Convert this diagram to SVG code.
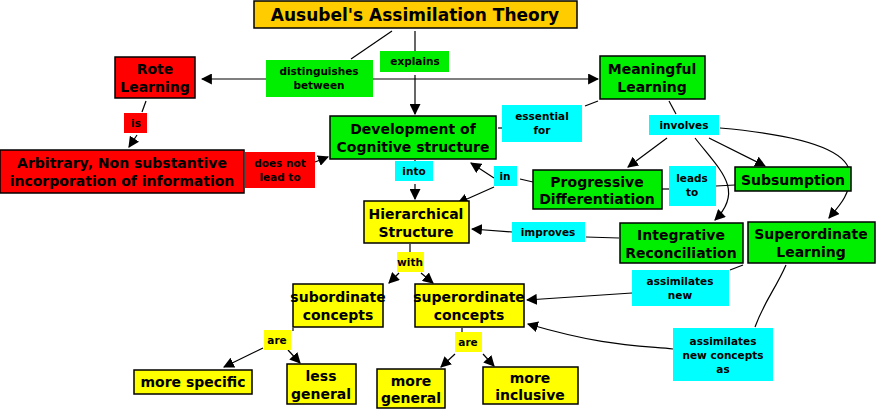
<svg xmlns="http://www.w3.org/2000/svg" width="881" height="410" viewBox="0 0 881 410">
<style>
text{font-family:"DejaVu Sans","Liberation Sans",sans-serif;font-weight:bold;text-anchor:middle;fill:#000}
.n rect{stroke:#000;stroke-width:1.5}
.l rect{stroke:none}
.n text{font-size:14px}
.l text{font-size:10.5px}
.red{fill:#ff0000}.grn{fill:#00ee00}.yel{fill:#ffff00}.cyn{fill:#00ffff}
#c path,#c line{stroke:#000;stroke-width:1.2;fill:none}
</style>
<defs><marker id="a" viewBox="0 0 10 10" refX="9" refY="5" markerWidth="11" markerHeight="11" markerUnits="userSpaceOnUse" orient="auto"><path d="M0,0L10,5L0,10z" fill="#000"/></marker></defs>
<rect width="881" height="410" fill="#fff"/>
<g id="c">
<line x1="392" y1="31" x2="351" y2="59"/>
<line x1="266" y1="79" x2="202" y2="79" marker-end="url(#a)"/>
<line x1="373" y1="79" x2="598" y2="79" marker-end="url(#a)"/>
<line x1="415" y1="31" x2="415" y2="51"/>
<line x1="415" y1="75" x2="415" y2="114" marker-end="url(#a)"/>
<line x1="146" y1="101" x2="142" y2="112"/>
<line x1="137" y1="135" x2="129" y2="147" marker-end="url(#a)"/>
<line x1="315" y1="162" x2="328" y2="157" marker-end="url(#a)"/>
<line x1="598" y1="101" x2="585" y2="106"/>
<line x1="502" y1="128" x2="498" y2="128"/>
<line x1="669" y1="101" x2="676" y2="114"/>
<line x1="667" y1="138" x2="628" y2="167" marker-end="url(#a)"/>
<line x1="709" y1="138" x2="765" y2="166" marker-end="url(#a)"/>
<path d="M695,138 C720,170 745,190 715,220" marker-end="url(#a)"/>
<path d="M720,128 C800,135 850,150 850,175 C850,195 840,205 829,218" marker-end="url(#a)"/>
<line x1="533" y1="182" x2="520" y2="179"/>
<line x1="494" y1="178" x2="471" y2="163" marker-end="url(#a)"/>
<line x1="494" y1="187" x2="458" y2="203" marker-end="url(#a)"/>
<line x1="662" y1="189" x2="669" y2="189"/>
<line x1="716" y1="186" x2="735" y2="185"/>
<line x1="415" y1="160" x2="415" y2="161"/>
<line x1="415" y1="184" x2="415" y2="199" marker-end="url(#a)"/>
<line x1="619" y1="238" x2="586" y2="237"/>
<line x1="512" y1="232" x2="472" y2="229" marker-end="url(#a)"/>
<line x1="410" y1="244" x2="410" y2="252"/>
<line x1="399" y1="273" x2="389" y2="283" marker-end="url(#a)"/>
<line x1="421" y1="273" x2="433" y2="283" marker-end="url(#a)"/>
<line x1="743" y1="265" x2="730" y2="270"/>
<line x1="632" y1="293" x2="527" y2="300" marker-end="url(#a)"/>
<path d="M786,265 C775,290 765,300 755,327"/>
<path d="M673,349 C630,345 600,345 528,324" marker-end="url(#a)"/>
<line x1="293" y1="328" x2="293" y2="331"/>
<line x1="263" y1="348" x2="224" y2="367" marker-end="url(#a)"/>
<line x1="288" y1="350" x2="300" y2="363" marker-end="url(#a)"/>
<line x1="462" y1="328" x2="462" y2="332"/>
<line x1="455" y1="354" x2="441" y2="367" marker-end="url(#a)"/>
<line x1="483" y1="354" x2="494" y2="366" marker-end="url(#a)"/>
</g>
<g id="title" class="n"><rect x="254" y="1" width="323" height="27" fill="#ffcc00"/><text x="415" y="21" style="font-size:17px">Ausubel's Assimilation Theory</text></g>
<g id="rote" class="n"><rect x="115" y="57" width="80" height="41" class="red"/><text x="155" y="74">Rote</text><text x="155" y="92">Learning</text></g>
<g id="meaningful" class="n"><rect x="600" y="56" width="105" height="43" class="grn"/><text x="652" y="74">Meaningful</text><text x="652" y="92">Learning</text></g>
<g id="dev" class="n"><rect x="330" y="116" width="166" height="43" class="grn"/><text x="413" y="134">Development of</text><text x="413" y="152">Cognitive structure</text></g>
<g id="arb" class="n"><rect x="0" y="150" width="244" height="43" class="red"/><text x="122" y="168">Arbitrary, Non substantive</text><text x="122" y="186">incorporation of information</text></g>
<g id="prog" class="n"><rect x="533" y="170" width="129" height="39" class="grn"/><text x="597" y="187">Progressive</text><text x="597" y="204">Differentiation</text></g>
<g id="subs" class="n"><rect x="735" y="167" width="116" height="24" class="grn"/><text x="793" y="185">Subsumption</text></g>
<g id="hier" class="n"><rect x="364" y="201" width="105" height="42" class="yel"/><text x="416" y="219">Hierarchical</text><text x="416" y="237">Structure</text></g>
<g id="integ" class="n"><rect x="620" y="223" width="123" height="40" class="grn"/><text x="681" y="240">Integrative</text><text x="681" y="258">Reconciliation</text></g>
<g id="superL" class="n"><rect x="748" y="222" width="127" height="41" class="grn"/><text x="811" y="239">Superordinate</text><text x="811" y="257">Learning</text></g>
<g id="subC" class="n"><rect x="293" y="284" width="90" height="43" class="yel"/><text x="338" y="302">subordinate</text><text x="338" y="320">concepts</text></g>
<g id="supC" class="n"><rect x="415" y="284" width="109" height="43" class="yel"/><text x="469" y="302">superordinate</text><text x="469" y="320">concepts</text></g>
<g id="spec" class="n"><rect x="134" y="370" width="118" height="24" class="yel"/><text x="193" y="387">more specific</text></g>
<g id="lessg" class="n"><rect x="287" y="364" width="69" height="40" class="yel"/><text x="321" y="381">less</text><text x="321" y="399">general</text></g>
<g id="moreg" class="n"><rect x="377" y="369" width="68" height="39" class="yel"/><text x="411" y="386">more</text><text x="411" y="403">general</text></g>
<g id="morei" class="n"><rect x="483" y="367" width="95" height="37" class="yel"/><text x="530" y="383">more</text><text x="530" y="400">inclusive</text></g>
<g id="l-dist" class="l"><rect x="266" y="60" width="107" height="37" class="grn"/><text x="319" y="75">distinguishes</text><text x="319" y="89">between</text></g>
<g id="l-expl" class="l"><rect x="380" y="51" width="69" height="21" class="grn"/><text x="415" y="65">explains</text></g>
<g id="l-is" class="l"><rect x="124" y="113" width="23" height="20" class="red"/><text x="136" y="127">is</text></g>
<g id="l-dnl" class="l"><rect x="245" y="152" width="70" height="36" class="red"/><text x="280" y="167">does not</text><text x="280" y="181">lead to</text></g>
<g id="l-ess" class="l"><rect x="502" y="105" width="80" height="37" class="cyn"/><text x="542" y="120">essential</text><text x="542" y="134">for</text></g>
<g id="l-inv" class="l"><rect x="649" y="115" width="70" height="20" class="cyn"/><text x="684" y="129">involves</text></g>
<g id="l-into" class="l"><rect x="395" y="161" width="38" height="20" class="cyn"/><text x="414" y="175">into</text></g>
<g id="l-in" class="l"><rect x="494" y="166" width="23" height="20" class="cyn"/><text x="505" y="180">in</text></g>
<g id="l-leads" class="l"><rect x="669" y="166" width="47" height="40" class="cyn"/><text x="692" y="182">leads</text><text x="692" y="196">to</text></g>
<g id="l-impr" class="l"><rect x="512" y="222" width="73" height="20" class="cyn"/><text x="548" y="236">improves</text></g>
<g id="l-with" class="l"><rect x="397" y="252" width="27" height="20" class="yel"/><text x="410" y="266">with</text></g>
<g id="l-asn" class="l"><rect x="632" y="270" width="97" height="36" class="cyn"/><text x="680" y="285">assimilates</text><text x="680" y="299">new</text></g>
<g id="l-asnc" class="l"><rect x="673" y="328" width="100" height="53" class="cyn"/><text x="723" y="345">assimilates</text><text x="723" y="359">new concepts</text><text x="723" y="373">as</text></g>
<g id="l-are1" class="l"><rect x="264" y="330" width="27" height="20" class="yel"/><text x="277" y="344">are</text></g>
<g id="l-are2" class="l"><rect x="455" y="332" width="27" height="20" class="yel"/><text x="468" y="346">are</text></g>
</svg>
